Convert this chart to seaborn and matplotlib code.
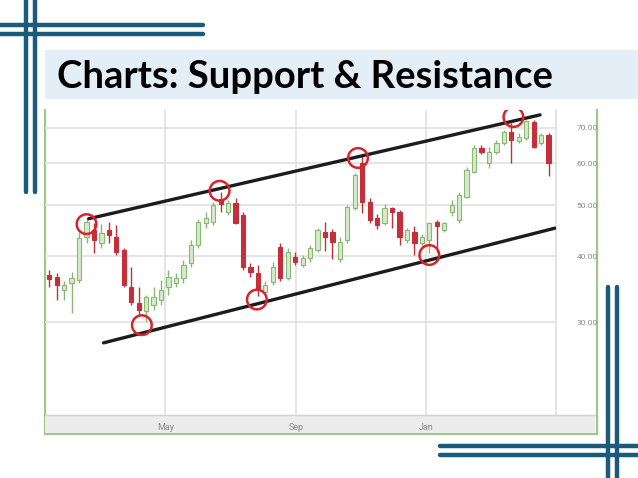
import numpy as np
import pandas as pd
import matplotlib
matplotlib.use("Agg")
import matplotlib.pyplot as plt
import matplotlib.dates as mdates
from matplotlib.patches import Rectangle
from matplotlib.lines import Line2D
import seaborn as sns

# ---------------- data ----------------
start_date = "2012-01-13"
n_weeks = 68
opens = [36.8, 36.5, 34.5, 35.6, 36.1, 43.5, 44.8, 42.4, 44.8, 43.5,
         41.1, 35.0, 32.6, 31.5, 32.3, 33.1, 35.0, 35.6, 36.4, 38.8,
         42.0, 46.2, 46.4, 51.4, 48.5, 50.4, 47.9, 38.2, 37.2, 34.2,
         35.7, 41.6, 36.4, 39.9, 38.5, 39.7, 41.1, 44.5, 44.5, 39.5,
         42.9, 49.4, 60.1, 50.7, 47.3, 46.2, 49.4, 48.5, 42.9, 44.5,
         42.4, 42.9, 46.4, 44.8, 48.5, 46.8, 51.8, 57.8, 64.1, 60.1,
         63.0, 65.6, 68.8, 66.0, 67.0, 71.8, 65.6, 67.9]
highs = [37.7, 37.2, 35.9, 37.3, 44.5, 47.0, 46.2, 46.0, 46.4, 45.8,
         41.5, 38.2, 35.0, 33.8, 35.0, 36.1, 37.7, 37.2, 39.3, 42.9,
         47.0, 48.5, 50.7, 53.0, 51.1, 51.5, 48.5, 38.8, 38.5, 35.9,
         39.0, 42.4, 41.5, 40.7, 40.2, 42.0, 45.2, 46.5, 45.0, 43.5,
         50.0, 57.5, 62.5, 51.5, 48.0, 50.2, 49.6, 49.0, 45.2, 45.6,
         44.0, 46.5, 46.8, 46.5, 51.1, 52.9, 59.0, 65.0, 65.0, 64.5,
         66.5, 69.5, 71.5, 68.5, 72.5, 72.5, 68.5, 68.5]
lows = [35.0, 33.1, 33.1, 31.2, 35.6, 42.4, 40.5, 41.5, 42.4, 40.2,
        35.0, 32.3, 30.8, 30.0, 31.6, 32.3, 33.8, 35.0, 35.6, 38.2,
        41.5, 45.2, 45.8, 48.5, 47.9, 46.0, 37.7, 36.5, 33.6, 33.8,
        35.3, 35.9, 36.1, 38.5, 38.2, 39.0, 40.7, 41.0, 39.5, 39.0,
        42.4, 49.0, 48.2, 46.2, 45.0, 45.8, 45.2, 42.0, 42.4, 40.2,
        41.8, 40.5, 40.7, 44.5, 47.6, 46.2, 51.5, 57.5, 62.5, 58.8,
        62.5, 65.0, 60.1, 65.6, 66.5, 64.0, 65.0, 56.8]
closes = [36.2, 35.3, 35.3, 36.4, 43.3, 46.4, 42.9, 44.2, 43.9, 40.7,
          35.3, 32.8, 31.6, 33.5, 33.5, 34.5, 36.5, 36.4, 38.5, 42.0,
          46.4, 47.3, 50.0, 50.2, 50.4, 46.2, 38.2, 37.3, 34.5, 35.3,
          38.2, 36.4, 40.7, 39.0, 39.7, 41.5, 44.8, 43.5, 42.6, 42.6,
          49.6, 57.0, 50.7, 46.8, 45.8, 49.4, 48.5, 43.5, 44.8, 42.4,
          43.5, 46.2, 45.6, 46.2, 50.0, 52.2, 58.3, 64.1, 63.0, 63.0,
          65.6, 68.8, 66.4, 67.4, 72.0, 64.5, 68.0, 60.1]

resistance_dates = ["2012-02-19", "2013-04-18"]
resistance_prices = [47.1, 74.1]
support_dates = ["2012-03-04", "2013-05-02"]
support_prices = [27.4, 45.2]

touch_dates = ["2012-02-17", "2012-04-09", "2012-06-21", "2012-07-26",
               "2012-10-29", "2013-01-04", "2013-03-24"]
touch_prices = [46.0, 29.6, 53.2, 33.1, 61.4, 40.2, 73.4]

y_ticks = [30, 40, 50, 60, 70]
y_tick_labels = ["30.00", "40.00", "50.00", "60.00", "70.00"]
month_ticks = ["2012-05-01", "2012-09-01", "2013-01-01"]
month_labels = ["May", "Sep", "Jan"]
title = "Charts: Support & Resistance"

# ---------------- style ----------------
sns.set_theme(style="white")
plt.rcParams["font.family"] = ["DejaVu Sans"]
narrow = ["Roboto", "DejaVu Sans"]

W, H = 638, 478
fig = plt.figure(figsize=(W / 100, H / 100), dpi=100)
fig.patch.set_facecolor("white")

def fx(px):
    return px / W

def fy(py):
    return 1 - py / H

deco = "#1a5a7c"
# decorative lines (top-left)
for x0 in (26, 35):
    fig.add_artist(Line2D([fx(x0), fx(x0)], [fy(0), fy(192)], color=deco, lw=3.2))
for y0 in (25, 34):
    fig.add_artist(Line2D([fx(0), fx(203)], [fy(y0), fy(y0)], color=deco, lw=3.2))
# decorative lines (bottom-right)
for x0 in (608, 617):
    fig.add_artist(Line2D([fx(x0), fx(x0)], [fy(287), fy(478)], color=deco, lw=3.2))
for y0 in (446, 455):
    fig.add_artist(Line2D([fx(440), fx(638)], [fy(y0), fy(y0)], color=deco, lw=3.2))

# title banner
fig.add_artist(Rectangle((fx(45), fy(99)), fx(638) - fx(45), fy(50) - fy(99),
                         transform=fig.transFigure, facecolor="#e4eef6",
                         edgecolor="none", zorder=0))
fig.text(fx(57), fy(88), title, family=["Lato", "DejaVu Sans"], fontweight="bold",
         fontsize=27.5, color="black", va="baseline", ha="left")

# frame (green border) and gray band
frame = fig.add_axes([fx(45), fy(434), fx(597) - fx(45), fy(110) - fy(434)], zorder=0)
frame.set_xticks([]); frame.set_yticks([])
frame.set_facecolor("white")
for s in ("left", "right", "bottom"):
    frame.spines[s].set_color("#9cc98a")
    frame.spines[s].set_linewidth(1.6)
frame.spines["top"].set_visible(False)
fig.add_artist(Rectangle((fx(45), fy(433)), fx(595) - fx(45), fy(415) - fy(433),
                         transform=fig.transFigure, facecolor="#ececec",
                         edgecolor="none", zorder=1))
fig.add_artist(Line2D([fx(45), fx(595)], [fy(415), fy(415)], color="#d2d2d2", lw=1, zorder=2))

# main chart axes
ax = fig.add_axes([fx(45), fy(415), fx(556) - fx(45), fy(110) - fy(415)], zorder=3)
ax.patch.set_alpha(0)

df = pd.DataFrame({
    "date": pd.date_range(start_date, periods=n_weeks, freq="7D"),
    "open": opens, "high": highs, "low": lows, "close": closes,
})
df["up"] = df["close"] >= df["open"]
up_edge, up_fill = "#88b972", "#d6eacb"
dn_col = "#c3303c"

ax.set_yscale("log")
ax.set_ylim(20.0, 75.7)
ax.set_xlim(pd.Timestamp("2012-01-09"), pd.Timestamp("2013-05-03"))

ax.yaxis.set_minor_locator(matplotlib.ticker.NullLocator())
ax.set_yticks(y_ticks)
ax.set_yticklabels(y_tick_labels)
ax.yaxis.tick_right()
ax.tick_params(axis="y", length=0, pad=15, labelsize=6, labelcolor="#8a8a8a")
for lab in ax.get_yticklabels():
    lab.set_family(narrow)

mt = pd.to_datetime(month_ticks)
ax.set_xticks(mt)
ax.set_xticklabels(month_labels)
ax.tick_params(axis="x", length=0, pad=6, labelsize=6.5, labelcolor="#8a8a8a")
for lab in ax.get_xticklabels():
    lab.set_family(narrow)

ax.grid(True, axis="both", color="#dedede", lw=1.1)
ax.set_axisbelow(True)
for s in ("top", "left", "bottom"):
    ax.spines[s].set_visible(False)
ax.spines["right"].set_color("#dcdcdc")
ax.spines["right"].set_linewidth(1.1)

width = pd.Timedelta(days=4.0)
for _, r in df.iterrows():
    col = up_edge if r["up"] else dn_col
    ax.vlines(r["date"], r["low"], r["high"], color=col, lw=1.0, zorder=3)
    lo, hi = min(r["open"], r["close"]), max(r["open"], r["close"])
    ax.bar(r["date"], hi - lo, bottom=lo, width=width,
           color=up_fill if r["up"] else dn_col, edgecolor=col, lw=0.8, zorder=4)

# trend lines
tl = pd.DataFrame({
    "date": pd.to_datetime(resistance_dates + support_dates),
    "price": resistance_prices + support_prices,
    "line": ["resistance"] * 2 + ["support"] * 2,
})
sns.lineplot(data=tl, x="date", y="price", units="line", estimator=None,
             color="#1c1c1c", lw=2.4, ax=ax, zorder=5, legend=False)

# touch circles
tp = pd.DataFrame({"date": pd.to_datetime(touch_dates), "price": touch_prices})
sns.scatterplot(data=tp, x="date", y="price", s=200, marker="o",
                facecolors="none", edgecolor="#d8232a", linewidth=1.8,
                ax=ax, zorder=6, legend=False)
ax.set_xlabel(""); ax.set_ylabel("")
ax.set_xlim(pd.Timestamp("2012-01-09"), pd.Timestamp("2013-05-03"))
ax.set_ylim(20.0, 75.7)

fig.savefig("out.png", dpi=100)
